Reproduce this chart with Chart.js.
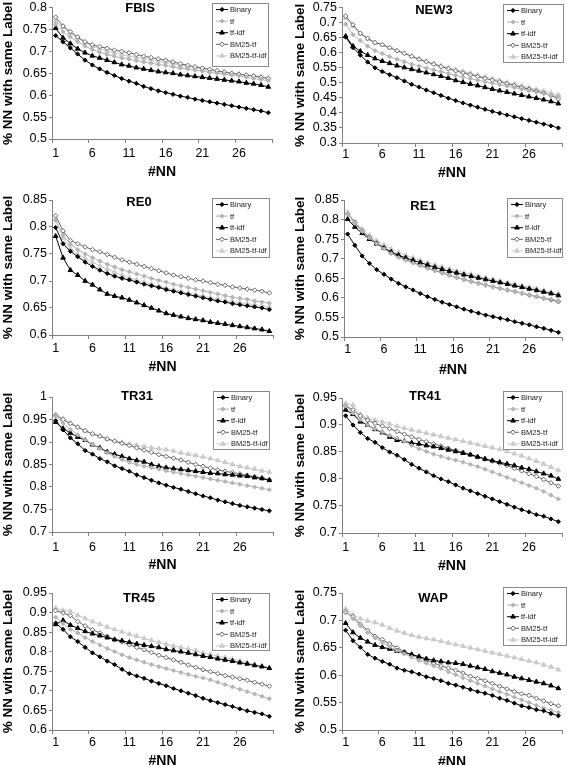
<!DOCTYPE html>
<html lang="en">
<head>
<meta charset="UTF-8">
<title>% NN with same Label</title>
<style>
    body {
        margin: 0;
        padding: 0;
        background: #fff;
        width: 567px;
        height: 765px;
        overflow: hidden;
        position: relative;
    }
    canvas {
        position: absolute;
    }
</style>
</head>
<body>
<div id="stage"></div>

<script src="https://cdn.jsdelivr.net/npm/chart.js@4"></script>
<script>
// x categories (#NN) and series names
const nnLabels = ['1','2','3','4','5','6','7','8','9','10','11','12','13','14','15','16','17','18','19','20','21','22','23','24','25','26','27','28','29','30'];
const seriesNames = ['Binary', 'tf', 'tf-idf', 'BM25-tf', 'BM25-tf-idf'];

// FBIS
const fbisRange = [0.5, 0.8];
const fbisBinary = [.736,.722,.708,.694,.680,.669,.660,.652,.645,.638,.632,.627,.620,.615,.610,.606,.602,.598,.595,.591,.588,.585,.582,.579,.576,.573,.570,.567,.564,.560];
const fbisTf = [.762,.745,.733,.722,.712,.704,.698,.693,.689,.685,.682,.679,.676,.673,.670,.668,.665,.662,.660,.657,.655,.652,.650,.648,.646,.644,.641,.638,.636,.633];
const fbisTfidf = [.753,.731,.718,.706,.697,.690,.685,.680,.675,.670,.667,.663,.660,.657,.654,.652,.650,.647,.645,.643,.641,.639,.637,.635,.633,.631,.628,.626,.623,.619];
const fbisBm25tf = [.778,.758,.745,.733,.722,.715,.711,.707,.703,.700,.697,.693,.689,.686,.683,.680,.676,.672,.668,.665,.662,.659,.656,.653,.650,.648,.646,.644,.641,.638];
const fbisBm25tfidf = [.770,.755,.742,.730,.720,.712,.706,.701,.697,.693,.690,.687,.684,.681,.678,.675,.672,.669,.666,.663,.660,.657,.654,.652,.650,.648,.646,.644,.642,.640];

// NEW3
const new3Range = [0.3, 0.75];
const new3Binary = [.652,.617,.592,.569,.550,.537,.527,.517,.506,.495,.486,.476,.467,.458,.449,.441,.433,.426,.419,.412,.405,.399,.393,.387,.381,.375,.369,.363,.357,.350];
const new3Tf = [.695,.660,.640,.622,.607,.597,.587,.578,.570,.562,.556,.549,.543,.537,.531,.525,.519,.514,.509,.504,.499,.494,.489,.484,.479,.474,.469,.464,.459,.454];
const new3Tfidf = [.655,.622,.605,.592,.581,.572,.565,.557,.551,.545,.540,.534,.528,.522,.516,.508,.502,.496,.491,.485,.479,.474,.469,.464,.459,.454,.449,.444,.438,.431];
const new3Bm25tf = [.722,.693,.665,.648,.634,.627,.617,.607,.598,.588,.578,.570,.562,.554,.547,.540,.533,.527,.521,.515,.509,.503,.497,.491,.485,.479,.473,.466,.458,.447];
const new3Bm25tfidf = [.715,.688,.662,.645,.633,.626,.616,.607,.598,.589,.580,.572,.564,.557,.550,.544,.538,.532,.526,.520,.514,.508,.502,.496,.490,.484,.478,.472,.466,.460];

// RE0
const re0Range = [0.6, 0.85];
const re0Binary = [.799,.769,.755,.745,.735,.727,.720,.714,.709,.705,.702,.698,.694,.691,.688,.684,.681,.678,.675,.672,.669,.666,.663,.661,.658,.656,.654,.652,.650,.647];
const re0Tf = [.812,.785,.768,.758,.750,.743,.737,.731,.726,.721,.717,.713,.709,.705,.701,.698,.694,.691,.688,.685,.682,.679,.676,.673,.670,.668,.666,.663,.661,.659];
const re0Tfidf = [.783,.743,.720,.711,.700,.693,.684,.676,.672,.669,.665,.660,.655,.650,.645,.640,.637,.634,.631,.629,.627,.624,.622,.620,.618,.616,.614,.612,.610,.607];
const re0Bm25tf = [.821,.793,.775,.769,.763,.758,.754,.749,.744,.739,.735,.731,.727,.723,.719,.715,.711,.708,.705,.702,.700,.697,.694,.692,.689,.687,.685,.683,.681,.678];
const re0Bm25tfidf = [.815,.780,.760,.750,.742,.735,.728,.722,.716,.711,.706,.702,.698,.694,.690,.687,.684,.681,.678,.675,.672,.669,.667,.664,.662,.660,.658,.656,.654,.652];

// RE1
const re1Range = [0.5, 0.85];
const re1Binary = [.763,.734,.707,.688,.672,.660,.648,.637,.628,.620,.611,.603,.596,.589,.583,.577,.571,.566,.561,.556,.552,.548,.544,.539,.535,.531,.526,.522,.517,.512];
const re1Tf = [.815,.790,.770,.753,.738,.725,.713,.703,.696,.689,.682,.675,.669,.663,.657,.652,.647,.642,.637,.633,.628,.624,.620,.616,.612,.608,.604,.600,.597,.593];
const re1Tfidf = [.801,.781,.765,.750,.738,.727,.717,.709,.702,.696,.690,.684,.678,.673,.668,.664,.659,.655,.651,.647,.643,.639,.635,.631,.627,.623,.619,.615,.611,.606];
const re1Bm25tf = [.815,.792,.771,.755,.740,.728,.716,.706,.698,.690,.683,.676,.670,.664,.658,.652,.647,.642,.637,.633,.628,.624,.620,.616,.612,.607,.603,.599,.595,.590];
const re1Bm25tfidf = [.818,.795,.776,.760,.746,.735,.725,.716,.709,.702,.696,.690,.684,.679,.674,.669,.664,.660,.656,.651,.647,.643,.639,.635,.631,.627,.623,.619,.615,.611];

// TR31
const tr31Range = [0.7, 1];
const tr31Binary = [.947,.927,.909,.896,.881,.873,.863,.856,.847,.841,.835,.827,.821,.815,.809,.804,.799,.795,.790,.785,.780,.776,.771,.767,.763,.759,.756,.753,.750,.747];
const tr31Tf = [.957,.942,.928,.916,.905,.895,.885,.876,.868,.861,.855,.850,.846,.843,.840,.836,.833,.830,.827,.824,.821,.818,.815,.812,.809,.806,.803,.800,.797,.794];
const tr31Tfidf = [.944,.930,.920,.911,.904,.894,.887,.878,.873,.868,.863,.859,.856,.850,.846,.843,.841,.839,.837,.835,.833,.831,.830,.828,.827,.825,.824,.821,.819,.815];
const tr31Bm25tf = [.959,.950,.941,.933,.925,.918,.913,.907,.902,.897,.892,.887,.882,.877,.872,.868,.864,.860,.855,.850,.846,.842,.838,.835,.832,.829,.826,.823,.820,.816];
const tr31Bm25tfidf = [.961,.952,.942,.933,.925,.918,.913,.906,.902,.899,.896,.893,.890,.887,.885,.883,.880,.876,.873,.870,.867,.863,.859,.855,.850,.846,.843,.840,.836,.833];

// TR41
const tr41Range = [0.7, 0.95];
const tr41Binary = [.917,.900,.886,.875,.868,.858,.850,.844,.836,.827,.820,.813,.806,.800,.795,.789,.783,.778,.773,.768,.763,.758,.753,.748,.743,.739,.734,.731,.726,.721];
const tr41Tf = [.935,.922,.910,.900,.893,.887,.881,.876,.870,.862,.856,.851,.846,.842,.838,.835,.831,.827,.823,.818,.813,.808,.803,.798,.793,.788,.783,.777,.770,.763];
const tr41Tfidf = [.928,.920,.906,.900,.892,.886,.878,.872,.870,.867,.865,.862,.860,.857,.854,.851,.848,.845,.841,.837,.834,.831,.828,.825,.821,.818,.814,.810,.806,.800];
const tr41Bm25tf = [.935,.928,.917,.909,.903,.898,.893,.888,.883,.878,.873,.869,.865,.861,.857,.853,.849,.845,.841,.837,.833,.829,.825,.820,.815,.810,.805,.799,.793,.787];
const tr41Bm25tfidf = [.940,.937,.920,.913,.909,.906,.902,.898,.894,.891,.888,.885,.882,.879,.876,.873,.870,.867,.864,.861,.858,.855,.851,.847,.843,.838,.833,.828,.822,.816];

// TR45
const tr45Range = [0.6, 0.95];
const tr45Binary = [.873,.857,.838,.826,.811,.797,.787,.776,.767,.755,.744,.738,.732,.725,.719,.713,.706,.700,.694,.688,.681,.675,.670,.665,.660,.654,.649,.645,.641,.635];
const tr45Tf = [.888,.872,.857,.848,.836,.826,.817,.808,.800,.792,.785,.779,.773,.767,.762,.757,.752,.747,.742,.737,.733,.728,.722,.716,.710,.704,.698,.692,.686,.680];
const tr45Tfidf = [.870,.880,.868,.860,.852,.846,.841,.836,.831,.828,.824,.820,.817,.814,.811,.806,.803,.800,.797,.793,.789,.786,.782,.779,.776,.772,.769,.765,.762,.758];
const tr45Bm25tf = [.905,.899,.892,.877,.866,.856,.848,.839,.831,.825,.818,.811,.805,.798,.791,.785,.779,.773,.766,.760,.754,.749,.744,.739,.735,.731,.727,.722,.717,.712];
const tr45Bm25tfidf = [.912,.906,.903,.893,.885,.877,.870,.863,.857,.851,.845,.840,.834,.829,.824,.819,.815,.811,.807,.803,.797,.793,.789,.785,.781,.777,.772,.768,.763,.758];

// WAP
const wapRange = [0.5, 0.75];
const wapBinary = [.682,.663,.651,.638,.631,.625,.620,.613,.609,.606,.602,.597,.594,.590,.585,.582,.578,.574,.570,.567,.563,.558,.554,.549,.544,.541,.537,.535,.530,.526];
const wapTf = [.718,.703,.690,.678,.668,.660,.652,.645,.639,.633,.627,.622,.617,.612,.606,.601,.595,.590,.585,.580,.575,.570,.565,.560,.555,.550,.545,.540,.536,.532];
const wapTfidf = [.695,.678,.668,.661,.655,.651,.648,.644,.641,.638,.634,.630,.627,.625,.623,.622,.620,.617,.614,.611,.607,.604,.601,.597,.594,.591,.588,.585,.581,.576];
const wapBm25tf = [.715,.707,.693,.682,.671,.665,.657,.650,.643,.637,.632,.627,.622,.617,.613,.609,.604,.598,.594,.590,.585,.580,.575,.570,.566,.563,.558,.553,.548,.544];
const wapBm25tfidf = [.721,.710,.703,.699,.696,.692,.686,.681,.677,.673,.670,.667,.665,.662,.659,.656,.653,.650,.647,.644,.641,.638,.635,.632,.629,.626,.623,.619,.615,.610];

// look of each series
const lineColors = ['#000000', '#b4b4b4', '#000000', '#666666', '#cacaca'];
const pointFills = ['#000000', '#b4b4b4', '#000000', '#ffffff', '#cacaca'];
const pointStyles = ['rectRot', 'rectRot', 'triangle', 'rectRot', 'triangle'];
const pointSizes = [2.1, 2.1, 2.7, 2.3, 2.7];

const FONT = 'Arial, "Liberation Sans", sans-serif';
Chart.defaults.font.family = FONT;
Chart.defaults.color = '#000';

// panel layout, in page pixels: plot = [left, top, right, bottom]
const CW = [283, 284];
const CH = 205;
const panels = [
    { title: 'FBIS', series: [fbisBinary, fbisTf, fbisTfidf, fbisBm25tf, fbisBm25tfidf], range: fbisRange,
      col: 0, top: 0, plot: [52, 5, 272, 139], xLab: 154, xTit: 172, tx: 140, ty: 8, box: [212, 3, 56, 63] },
    { title: 'NEW3', series: [new3Binary, new3Tf, new3Tfidf, new3Bm25tf, new3Bm25tfidf], range: new3Range,
      col: 1, top: 0, plot: [342, 6, 566, 143], xLab: 153, xTit: 173, tx: 434, ty: 10, box: [503, 4, 60, 58] },
    { title: 'RE0', series: [re0Binary, re0Tf, re0Tfidf, re0Bm25tf, re0Bm25tfidf], range: re0Range,
      col: 0, top: 185, plot: [52, 200, 273, 335], xLab: 349, xTit: 367, tx: 139, ty: 202, box: [212, 198, 57, 59] },
    { title: 'RE1', series: [re1Binary, re1Tf, re1Tfidf, re1Bm25tf, re1Bm25tfidf], range: re1Range,
      col: 1, top: 185, plot: [344, 200, 566, 337], xLab: 350, xTit: 370, tx: 423, ty: 206, box: [507, 198, 55, 59] },
    { title: 'TR31', series: [tr31Binary, tr31Tf, tr31Tfidf, tr31Bm25tf, tr31Bm25tfidf], range: tr31Range,
      col: 0, top: 375, plot: [52, 397, 273, 532], xLab: 548, xTit: 565, tx: 137, ty: 396, box: [213, 391, 56, 58] },
    { title: 'TR41', series: [tr41Binary, tr41Tf, tr41Tfidf, tr41Bm25tf, tr41Bm25tfidf], range: tr41Range,
      col: 1, top: 375, plot: [342, 398, 566, 533], xLab: 548, xTit: 566, tx: 425, ty: 396, box: [503, 391, 59, 58] },
    { title: 'TR45', series: [tr45Binary, tr45Tf, tr45Tfidf, tr45Bm25tf, tr45Bm25tfidf], range: tr45Range,
      col: 0, top: 570, plot: [52, 593, 273, 730], xLab: 743, xTit: 761, tx: 139, ty: 598, box: [212, 593, 57, 57] },
    { title: 'WAP', series: [wapBinary, wapTf, wapTfidf, wapBm25tf, wapBm25tfidf], range: wapRange,
      col: 1, top: 570, plot: [342, 593, 566, 730], xLab: 743, xTit: 762, tx: 433, ty: 598, box: [503, 587, 63, 58] }
];

// panel title + boxed legend drawn inside the plot, like the Excel originals
const panelDeco = {
    id: 'panelDeco',
    afterDraw(chart, args, opts) {
        const c = chart.ctx;
        c.save();
        c.font = 'bold 13px ' + FONT;
        c.fillStyle = '#000';
        c.textAlign = 'center';
        c.textBaseline = 'middle';
        c.fillText(opts.title, opts.tx, opts.ty);

        const b = opts.box;
        c.fillStyle = '#fff';
        c.fillRect(b[0], b[1], b[2], b[3]);
        c.strokeStyle = '#8a8a8a';
        c.lineWidth = 1;
        c.strokeRect(b[0] + 0.5, b[1] + 0.5, b[2], b[3]);

        c.font = '7.5px ' + FONT;
        c.textAlign = 'left';
        chart.data.datasets.forEach(function (ds, i) {
            const y = b[1] + 6.5 + i * 11.6;
            const x0 = b[0] + 4, x1 = b[0] + 16;
            c.strokeStyle = ds.borderColor;
            c.lineWidth = 1;
            c.beginPath();
            c.moveTo(x0, y);
            c.lineTo(x1, y);
            c.stroke();
            c.fillStyle = ds.pointBackgroundColor;
            c.strokeStyle = ds.pointBorderColor;
            if (Chart.helpers && Chart.helpers.drawPoint) {
                Chart.helpers.drawPoint(c, { pointStyle: ds.pointStyle, radius: ds.pointRadius, borderWidth: 1, rotation: 0 }, (x0 + x1) / 2, y);
            }
            c.fillStyle = '#222';
            c.fillText(ds.label, b[0] + 18, y + 0.5);
        });
        c.restore();
    }
};

function makePanel(p) {
    const left = p.col === 0 ? 0 : CW[0];
    const W = CW[p.col];
    const canvas = document.createElement('canvas');
    canvas.width = W;
    canvas.height = CH;
    canvas.style.left = left + 'px';
    canvas.style.top = p.top + 'px';
    document.getElementById('stage').appendChild(canvas);

    const bottom = p.top + CH;
    const yAxisW = p.plot[0] - left;
    const xAxisH = bottom - p.plot[3];

    new Chart(canvas.getContext('2d'), {
        type: 'line',
        data: {
            labels: nnLabels,
            datasets: seriesNames.map(function (name, i) {
                return {
                    label: name,
                    data: p.series[i],
                    borderColor: lineColors[i],
                    borderWidth: 1,
                    pointStyle: pointStyles[i],
                    pointRadius: pointSizes[i],
                    pointBackgroundColor: pointFills[i],
                    pointBorderColor: lineColors[i],
                    pointBorderWidth: 1,
                    tension: 0,
                    fill: false
                };
            })
        },
        options: {
            responsive: false,
            animation: false,
            events: [],
            layout: {
                padding: { left: 0, top: p.plot[1] - p.top, right: left + W - p.plot[2], bottom: 0 }
            },
            plugins: {
                legend: { display: false },
                tooltip: { enabled: false },
                panelDeco: {
                    title: p.title,
                    tx: p.tx - left,
                    ty: p.ty - p.top,
                    box: [p.box[0] - left, p.box[1] - p.top, p.box[2], p.box[3]]
                }
            },
            scales: {
                x: {
                    offset: true,
                    grid: {
                        offset: true,
                        drawOnChartArea: false,
                        drawTicks: true,
                        tickLength: 4,
                        color: function (ctx) {
                            return (ctx.index === undefined || ctx.index % 5 === 0) ? '#808080' : 'rgba(0,0,0,0)';
                        }
                    },
                    border: { display: true, color: '#808080', width: 1 },
                    ticks: {
                        autoSkip: false,
                        maxRotation: 0,
                        minRotation: 0,
                        padding: Math.max(0, p.xLab - p.plot[3] - 11.5),
                        font: { size: 12.5 },
                        callback: function (v, i) { return i % 5 === 0 ? nnLabels[i] : ''; }
                    },
                    title: {
                        display: true,
                        text: '#NN',
                        font: { size: 14, weight: 'bold', lineHeight: 1.2 },
                        padding: { top: 0, bottom: bottom - p.xTit - 8.4 }
                    },
                    afterFit: function (s) { s.height = xAxisH; }
                },
                y: {
                    min: p.range[0],
                    max: p.range[1],
                    grid: { drawOnChartArea: false, drawTicks: true, tickLength: 3, color: '#808080' },
                    border: { display: true, color: '#808080', width: 1 },
                    ticks: {
                        stepSize: 0.05,
                        maxTicksLimit: 20,
                        padding: 2,
                        // small line height so every 0.05 step fits
                        font: { size: 12.5, lineHeight: 0.9 },
                        callback: function (v) { return String(Math.round(v * 100) / 100); }
                    },
                    title: {
                        display: true,
                        text: '% NN with same Label',
                        font: { size: 13.5, weight: 'bold', lineHeight: 1.2 },
                        padding: { top: p.col === 0 ? 0.3 : 8.9, bottom: 0 }
                    },
                    afterFit: function (s) { s.width = yAxisW; }
                }
            }
        },
        plugins: [panelDeco]
    });
}

panels.forEach(makePanel);
</script>
</body>
</html>
